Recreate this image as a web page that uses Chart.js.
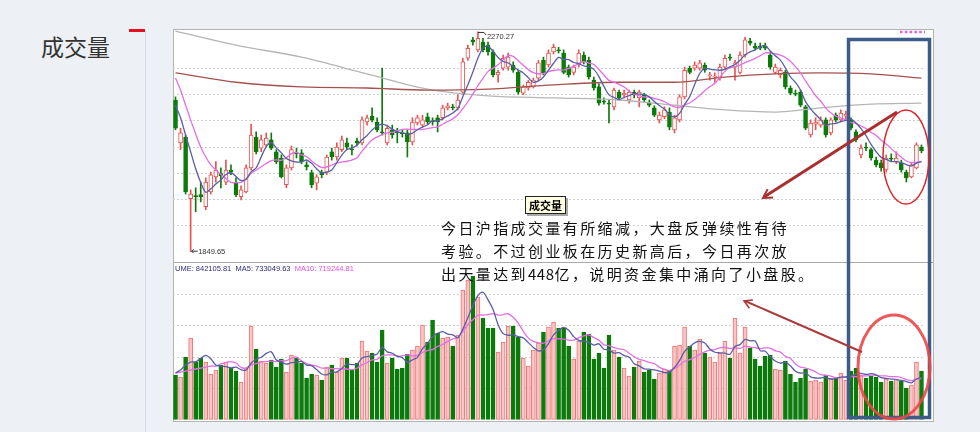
<!DOCTYPE html>
<html lang="zh">
<head>
<meta charset="UTF-8" />
<title>成交量</title>
<style>
  body { margin: 0; width: 980px; height: 432px; background: #edf0f5; position: relative; overflow: hidden; font-family: "Noto Sans CJK SC", sans-serif; }
  .title { position: absolute; left: 41px; top: 29px; font-size: 23px; color: #333; }
  .dash { position: absolute; left: 129px; top: 29px; width: 16px; height: 3px; background: #e8101a; }
  .vline { position: absolute; left: 145px; top: 32px; width: 1px; height: 400px; background: #d9dde5; }
  .box { position: absolute; left: 173px; top: 29px; width: 759px; height: 391px; border: 1px solid #b4b4b4; background: #fff; }
  .divider { position: absolute; left: 174px; top: 262px; width: 759px; height: 1px; background: #a9a9a9; }
  .panel { position: absolute; left: 173px; width: 760px; }
  #kwrap { top: 30px; height: 232px; }
  #vwrap { top: 263px; height: 157px; }
  .volhead { position: absolute; left: 175px; top: 264px; font: 7.5px "Liberation Sans", Arial, sans-serif; white-space: pre; }
  .hint { position: absolute; left: 525px; top: 196px; padding: 0 3px; height: 16px; line-height: 16px; font-size: 11px; font-weight: bold; color: #000; background: #ffffe1; border: 1px solid #222; box-shadow: 2px 2px 0 #aaa; }
  .note { position: absolute; left: 441px; top: 216px; font-size: 15px; line-height: 23px; letter-spacing: 2.4px; color: #111; white-space: nowrap; }
  .note .num { letter-spacing: 0.5px; }
  svg { position: absolute; left: 0; top: 0; }
</style>
</head>
<body>
<div class="title">成交量</div>
<div class="dash"></div>
<div class="vline"></div>
<div class="box"></div>
<div class="panel" id="kwrap"><canvas id="kline"></canvas></div>
<div class="divider"></div>
<div class="panel" id="vwrap"><canvas id="vol"></canvas></div>
<div class="volhead"><span style="color:#2c2c7c">UME: 842105.81  MA5: 733049.63  </span><span style="color:#e050e0">MA10: 719244.81</span></div>
<div class="hint">成交量</div>
<div class="note">今日沪指成交量有所缩减，大盘反弹续性有待<br>考验。不过创业板在历史新高后，今日再次放<br>出天量达到<span class="num">448</span>亿，说明资金集中涌向了小盘股。</div>

<svg width="980" height="432">
  <line x1="900" y1="32" x2="925" y2="32" stroke="#e060e6" stroke-width="2.5" stroke-dasharray="2.5,2.3" />
  <rect x="848.5" y="39.5" width="81" height="378" fill="none" stroke="#3d5b8b" stroke-width="3.5" />
  <ellipse cx="906" cy="157" rx="23" ry="47" fill="none" stroke="#dc2424" stroke-width="1.5" />
  <ellipse cx="894" cy="367" rx="36" ry="52" fill="none" stroke="#ec4646" stroke-width="3" opacity="0.9" />
  <line x1="897" y1="112" x2="764" y2="197" stroke="#a83030" stroke-width="3" />
  <polyline points="773,197.5 763,198 767.6,189.1" fill="none" stroke="#a83030" stroke-width="2" />
  <line x1="862" y1="352" x2="745" y2="301" stroke="#a83a3a" stroke-width="2" />
  <polyline points="749.4,308.2 744,301 752.9,300" fill="none" stroke="#a83a3a" stroke-width="1.6" />
</svg>

<script src="https://cdn.jsdelivr.net/npm/chart.js@4/dist/chart.umd.min.js"></script>
<script>
  // 日K线 (开 / 高 / 低 / 收)
  const opens = [
    2140, 2058, 2069, 1951, 1957, 1959, 1936, 1964, 1993, 1999,
    1983, 2006, 1983, 1955, 1964, 2010, 2069, 2048, 2054, 2064,
    2041, 2029, 1978, 2010, 2039, 2039, 2016, 2001, 1981, 2002,
    2002, 2041, 2031, 2045, 2058, 2046, 2062, 2058, 2098, 2109,
    2098, 2079, 2058, 2083, 2079, 2077, 2077, 2060, 2096, 2092,
    2108, 2100, 2106, 2106, 2125, 2127, 2125, 2155, 2220, 2255,
    2236, 2251, 2245, 2232, 2188, 2201, 2203, 2207, 2193, 2153,
    2163, 2165, 2182, 2216, 2207, 2232, 2236, 2230, 2203, 2193,
    2207, 2226, 2216, 2178, 2165, 2138, 2134, 2127, 2155, 2150,
    2140, 2155, 2144, 2150, 2136, 2125, 2102, 2108, 2117, 2083,
    2102, 2146, 2201, 2201, 2201, 2207, 2186, 2184, 2182, 2203,
    2222, 2203, 2193, 2226, 2253, 2243, 2243, 2243, 2226, 2193,
    2188, 2193, 2163, 2153, 2155, 2127, 2073, 2094, 2092, 2102,
    2077, 2111, 2102, 2109, 2102, 2079, 2035, 2050, 2045, 2025,
    2020, 2006, 2029, 2022, 2020, 2002, 1993, 2010, 2050
  ];
  const highs = [
    2146, 2086, 2073, 1968, 1972, 1983, 1991, 2002, 2022, 2010,
    2025, 2016, 1991, 1976, 2016, 2094, 2079, 2073, 2077, 2077,
    2045, 2035, 2016, 2052, 2048, 2045, 2022, 2006, 1997, 2006,
    2035, 2048, 2058, 2071, 2067, 2054, 2067, 2108, 2111, 2125,
    2106, 2201, 2092, 2092, 2086, 2083, 2083, 2106, 2111, 2111,
    2115, 2106, 2111, 2130, 2134, 2132, 2150, 2220, 2245, 2260,
    2270.27, 2258, 2251, 2236, 2197, 2226, 2230, 2213, 2197, 2169,
    2178, 2182, 2216, 2222, 2236, 2247, 2241, 2236, 2207, 2207,
    2236, 2232, 2222, 2184, 2171, 2144, 2140, 2163, 2159, 2159,
    2159, 2159, 2159, 2153, 2140, 2129, 2117, 2127, 2125, 2111,
    2150, 2203, 2205, 2213, 2216, 2211, 2193, 2192, 2209, 2226,
    2228, 2216, 2232, 2260, 2258, 2249, 2249, 2249, 2232, 2209,
    2201, 2197, 2167, 2159, 2159, 2130, 2102, 2106, 2108, 2106,
    2106, 2115, 2121, 2119, 2106, 2083, 2054, 2058, 2048, 2031,
    2025, 2035, 2037, 2041, 2025, 2006, 2020, 2058, 2054
  ];
  const lows = [
    2083, 2045, 1960, 1849.65, 1926, 1945, 1930, 1960, 1983, 1972,
    1978, 1997, 1955, 1949, 1962, 2006, 2037, 2041, 2050, 2045,
    2018, 1991, 1972, 2006, 2029, 2018, 2006, 1972, 1968, 1991,
    1997, 2025, 2025, 2041, 2045, 2035, 2052, 2054, 2092, 2098,
    2079, 2073, 2054, 2067, 2058, 2069, 2031, 2054, 2092, 2088,
    2094, 2092, 2079, 2102, 2121, 2121, 2121, 2151, 2216, 2245,
    2232, 2232, 2226, 2184, 2174, 2197, 2197, 2193, 2151, 2150,
    2159, 2163, 2178, 2188, 2203, 2228, 2230, 2190, 2184, 2188,
    2203, 2209, 2180, 2159, 2130, 2132, 2096, 2121, 2140, 2144,
    2134, 2144, 2127, 2136, 2127, 2108, 2096, 2104, 2083, 2077,
    2098, 2142, 2190, 2197, 2197, 2193, 2178, 2174, 2178, 2199,
    2216, 2178, 2190, 2222, 2245, 2236, 2236, 2236, 2199, 2190,
    2182, 2161, 2150, 2148, 2127, 2083, 2069, 2083, 2088, 2069,
    2073, 2098, 2098, 2104, 2083, 2060, 2029, 2043, 2025, 2012,
    2004, 2002, 2022, 2018, 2002, 1983, 1991, 2008, 2039
  ];
  const closes = [
    2086, 2077, 1964, 1960, 1955, 1955, 1983, 1997, 2006, 1995,
    2006, 2002, 1959, 1968, 2010, 2073, 2041, 2064, 2067, 2048,
    2022, 1993, 2010, 2045, 2037, 2022, 2012, 1978, 1993, 1997,
    2031, 2031, 2050, 2064, 2050, 2045, 2058, 2102, 2106, 2102,
    2083, 2077, 2086, 2073, 2077, 2075, 2060, 2098, 2106, 2102,
    2098, 2098, 2098, 2125, 2129, 2125, 2140, 2213, 2239, 2251,
    2258, 2236, 2232, 2188, 2193, 2220, 2222, 2197, 2155, 2165,
    2174, 2178, 2211, 2192, 2230, 2241, 2234, 2193, 2188, 2203,
    2230, 2213, 2184, 2163, 2134, 2136, 2132, 2159, 2144, 2153,
    2155, 2150, 2155, 2140, 2130, 2111, 2111, 2121, 2088, 2106,
    2146, 2197, 2193, 2207, 2211, 2197, 2188, 2186, 2203, 2220,
    2220, 2211, 2226, 2255, 2249, 2239, 2239, 2239, 2203, 2203,
    2197, 2165, 2153, 2151, 2130, 2086, 2096, 2098, 2102, 2073,
    2102, 2102, 2115, 2113, 2086, 2064, 2048, 2048, 2029, 2016,
    2010, 2029, 2027, 2029, 2006, 1991, 2016, 2054, 2043
  ];
  // 成交量 (千)
  const volumes = [
    774, 739, 1083, 1410, 997, 1066, 997, 791, 860, 945,
    997, 894, 842, 653, 894, 1616, 1220, 1014, 980, 1031,
    911, 1049, 825, 1117, 1066, 980, 722, 791, 774, 688,
    911, 945, 825, 1066, 1066, 860, 980, 1358, 1186, 1152,
    997, 1547, 980, 1066, 877, 894, 1135, 1203, 1272, 1633,
    1341, 1719, 1496, 1410, 1427, 1272, 1461, 2235, 2407, 2475,
    2114, 1753, 1581, 1581, 1169, 1341, 1616, 1616, 1427, 1066,
    928, 1203, 1324, 1513, 1599, 1685, 1581, 1581, 1272, 1049,
    1358, 1513, 1478, 1049, 1152, 894, 1461, 1203, 1083, 894,
    756, 911, 1014, 825, 860, 705, 808, 877, 860, 1272,
    1289, 1599, 1272, 1203, 1392, 1152, 1083, 997, 1152, 1358,
    1066, 1753, 1152, 1599, 1238, 1049, 928, 1100, 1117, 877,
    860, 1014, 791, 653, 722, 877, 670, 688, 653, 774,
    722, 722, 808, 688, 842, 894, 774, 722, 756, 739,
    653, 705, 670, 705, 670, 550, 602, 997, 842
  ];

  // 窗口开头之前的均线值
  const ma5Head = [2130, 2106, 2073, 2041];
  const ma10Head = [2182, 2159, 2130, 2102, 2075, 2050, 2031, 2016, 2006];
  const volMa5Head = [808, 860, 945, 997];
  const volMa10Head = [808, 825, 842, 860, 877, 894, 911, 928, 928];

  // 长期均线 (灰 / 棕)，取样点
  const longIdx = [0, 12, 25, 38, 50, 62, 75, 88, 99, 109, 119, 128, 138, 148];
  const maGray = [2272, 2245, 2222, 2190, 2161, 2148, 2144, 2140, 2130, 2121, 2117, 2125, 2132, 2134];
  const maBrown = [2192, 2174, 2165, 2163, 2159, 2161, 2169, 2174, 2174, 2184, 2190, 2192, 2190, 2182];

  const RED = "#e65454";
  const GREEN = "#0b7a0b";

  const days = closes.map((v, i) => String(i + 1));
  const up = closes.map((c, i) => c > opens[i]);

  function movingAvg(src, n, head) {
    return src.map((v, i) => {
      if (i < n - 1) return head[i];
      let s = 0;
      for (let k = i - n + 1; k <= i; k++) s += src[k];
      return s / n;
    });
  }

  function sparseLine(vals) {
    const out = days.map(() => null);
    longIdx.forEach((idx, k) => (out[idx] = vals[k]));
    return out;
  }

  const bodies = opens.map((o, i) => [Math.min(o, closes[i]), Math.max(o, closes[i])]);
  const wicks = lows.map((l, i) => [l, highs[i]]);

  const lineStyle = { type: "line", pointRadius: 0, borderWidth: 1.3, tension: 0.3, fill: false };

  // 最高 / 最低价标注
  const extremeLabels = {
    id: "extremeLabels",
    afterDatasetsDraw(chart) {
      const ctx = chart.ctx;
      const xs = chart.scales.x;
      const ys = chart.scales.y;
      const lo = Math.min(...lows);
      const hi = Math.max(...highs);
      const xl = xs.getPixelForValue(lows.indexOf(lo));
      const yl = ys.getPixelForValue(lo);
      const xh = xs.getPixelForValue(highs.indexOf(hi));
      const yh = ys.getPixelForValue(hi);
      ctx.save();
      ctx.strokeStyle = "#333";
      ctx.fillStyle = "#333";
      ctx.lineWidth = 1;
      ctx.font = '7.5px "Liberation Sans", Arial, sans-serif';
      ctx.textBaseline = "middle";
      ctx.beginPath();
      ctx.moveTo(xl + 1, yl - 0.5);
      ctx.lineTo(xl + 7, yl - 0.5);
      ctx.moveTo(xl + 1, yl - 0.5);
      ctx.lineTo(xl + 3, yl - 2.5);
      ctx.moveTo(xl + 1, yl - 0.5);
      ctx.lineTo(xl + 3, yl + 1.5);
      ctx.stroke();
      ctx.fillText(lo.toFixed(2), xl + 7.5, yl);
      ctx.beginPath();
      ctx.moveTo(xh, yh + 0.5);
      ctx.lineTo(xh + 6, yh + 0.5);
      ctx.lineTo(xh + 8, yh + 3);
      ctx.stroke();
      ctx.fillText(hi.toFixed(2), xh + 9, yh + 5);
      ctx.restore();
    },
  };

  new Chart(document.getElementById("kline"), {
    data: {
      labels: days,
      datasets: [
        { ...lineStyle, data: movingAvg(closes, 5, ma5Head), borderColor: "#5b5ea6" },
        { ...lineStyle, data: movingAvg(closes, 10, ma10Head), borderColor: "#e46ee6" },
        { ...lineStyle, data: sparseLine(maBrown), borderColor: "#a4504c", spanGaps: true, cubicInterpolationMode: "monotone" },
        { ...lineStyle, data: sparseLine(maGray), borderColor: "#b5b5b5", spanGaps: true, cubicInterpolationMode: "monotone" },
        {
          type: "bar",
          data: bodies,
          backgroundColor: up.map((u) => (u ? "#ffffff" : GREEN)),
          borderColor: up.map((u) => (u ? RED : GREEN)),
          borderWidth: 1,
          borderSkipped: false,
          barThickness: 4,
          grouped: false,
        },
        {
          type: "bar",
          data: wicks,
          backgroundColor: up.map((u) => (u ? RED : GREEN)),
          borderWidth: 0,
          barThickness: 1,
          grouped: false,
        },
      ],
    },
    options: {
      responsive: true,
      maintainAspectRatio: false,
      animation: false,
      layout: { padding: { left: 0, right: 9, top: 0, bottom: 0 } },
      plugins: { legend: { display: false }, tooltip: { enabled: false } },
      scales: {
        x: { display: false, offset: true },
        y: {
          min: 1830,
          max: 2274,
          ticks: { display: false, stepSize: 50 },
          grid: { drawTicks: false, color: (c) => (c.tick && c.tick.value % 50 === 0 ? "#d0d0d0" : "transparent") },
          border: { display: false, dash: [2, 2] },
          afterFit: (s) => (s.width = 0),
        },
      },
    },
    plugins: [extremeLabels],
  });

  new Chart(document.getElementById("vol"), {
    data: {
      labels: days,
      datasets: [
        { ...lineStyle, data: movingAvg(volumes, 5, volMa5Head), borderColor: "#5b5ea6" },
        { ...lineStyle, data: movingAvg(volumes, 10, volMa10Head), borderColor: "#e46ee6" },
        {
          type: "bar",
          data: volumes,
          backgroundColor: up.map((u) => (u ? "#f8c6c6" : GREEN)),
          borderColor: up.map((u) => (u ? "#ee7474" : GREEN)),
          borderWidth: 1,
          borderSkipped: false,
          barThickness: 4,
        },
      ],
    },
    options: {
      responsive: true,
      maintainAspectRatio: false,
      animation: false,
      layout: { padding: { left: 0, right: 9, top: 0, bottom: 0 } },
      plugins: { legend: { display: false }, tooltip: { enabled: false } },
      scales: {
        x: { display: false, offset: true },
        y: {
          min: 0,
          max: 2700,
          ticks: { display: false, stepSize: 516 },
          grid: { drawTicks: false, color: (c) => (c.tick && c.tick.value > 0 && c.tick.value < 2500 ? "#d0d0d0" : "transparent") },
          border: { display: false, dash: [2, 2] },
          afterFit: (s) => (s.width = 0),
        },
      },
    },
  });
</script>
</body>
</html>
